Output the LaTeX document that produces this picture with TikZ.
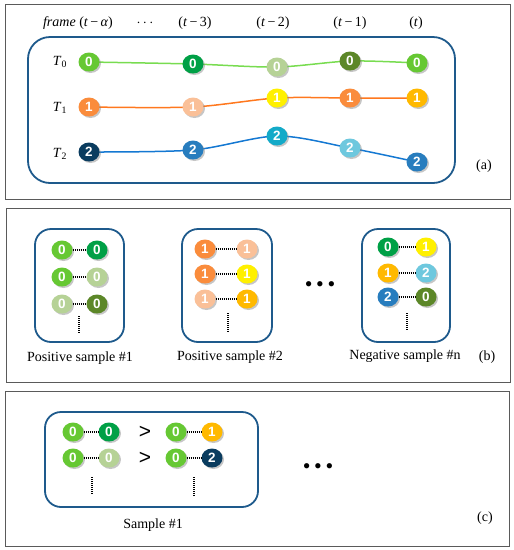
\documentclass[tikz,border=0pt]{standalone}
\usepackage{fontspec}
\setmainfont{Liberation Serif}
\setsansfont{Liberation Sans}
\usetikzlibrary{shapes.geometric,shadows,backgrounds}
\definecolor{cLG}{RGB}{102,200,51}
\definecolor{cDG}{RGB}{0,160,70}
\definecolor{cPG}{RGB}{182,210,150}
\definecolor{cOL}{RGB}{92,135,40}
\definecolor{cOR}{RGB}{250,140,60}
\definecolor{cPE}{RGB}{250,192,152}
\definecolor{cYE}{RGB}{255,240,0}
\definecolor{cAM}{RGB}{255,185,0}
\definecolor{cNV}{RGB}{10,60,95}
\definecolor{cBL}{RGB}{40,125,190}
\definecolor{cTE}{RGB}{20,170,200}
\definecolor{cLC}{RGB}{110,200,222}
\definecolor{boxblue}{RGB}{30,90,140}
\definecolor{framegray}{RGB}{90,90,90}
\definecolor{lineG}{RGB}{120,220,80}
\definecolor{lineO}{RGB}{255,120,30}
\definecolor{lineB}{RGB}{20,120,210}
\begin{document}
\begin{tikzpicture}[x=1pt,y=-1pt,
  circ/.style={ellipse, minimum width=21pt, minimum height=19pt, inner sep=0pt,
    fill=#1, text=white, font=\sffamily\bfseries\fontsize{13.5}{13.5}\selectfont,
    drop shadow={shadow xshift=1.5pt, shadow yshift=-1.5pt, opacity=0.45}},
  panel/.style={draw=framegray, line width=1pt},
  rbox/.style={draw=boxblue, line width=1.8pt, rounded corners=#1},
  lbl/.style={font=\fontsize{14}{16}\selectfont, inner sep=0pt},
  gtsym/.style={font=\sffamily\fontsize{21}{21}\selectfont, inner sep=0pt},
  track/.style={line width=1.5pt, draw=#1},
  dotline/.style={line width=1.3pt, dash pattern=on 1pt off 1pt},
  bullets/.style={font=\fontsize{22}{22}\selectfont, inner sep=0pt}
]
\useasboundingbox (0,0) rectangle (514,550);
% panels
\draw[panel] (5,4) rectangle (510,199);
\draw[panel] (6,208) rectangle (510,382);
\draw[panel] (5,391) rectangle (509,546);

% ===== panel (a)
\draw[rbox=22pt] (28,37) rectangle (455,183);
\node[lbl] (h0) at (78,23) {\textit{frame} (\textit{t}\,−\,\textit{α})};
\node[lbl] (h1) at (145,23) {$\cdots$};
\node[lbl] (h2) at (195,23) {(\textit{t}\,−\,3)};
\node[lbl] (h3) at (273,23) {(\textit{t}\,−\,2)};
\node[lbl] (h4) at (350,23) {(\textit{t}\,−\,1)};
\node[lbl] (h5) at (416,23) {(\textit{t})};
\node[lbl] (T0) at (60,62) {\textit{T}\textsubscript{0}};
\node[lbl] (T1) at (60,108) {\textit{T}\textsubscript{1}};
\node[lbl] (T2) at (60,154) {\textit{T}\textsubscript{2}};
\node[lbl] (la) at (484,166) {(a)};

\node[circ=cLG] (a00) at (89,62) {0};
\node[circ=cDG] (a01) at (193,64) {0};
\node[circ=cPG] (a02) at (277,67) {0};
\node[circ=cOL] (a03) at (350,61) {0};
\node[circ=cLG] (a04) at (417,63) {0};
\node[circ=cOR] (a10) at (89,107) {1};
\node[circ=cPE] (a11) at (193,107) {1};
\node[circ=cYE] (a12) at (277,98) {1};
\node[circ=cOR] (a13) at (350,98) {1};
\node[circ=cAM] (a14) at (417,98) {1};
\node[circ=cNV] (a20) at (89,152) {2};
\node[circ=cBL] (a21) at (193,150) {2};
\node[circ=cTE] (a22) at (277,136) {2};
\node[circ=cLC] (a23) at (350,148) {2};
\node[circ=cBL] (a24) at (417,162) {2};
\begin{pgfonlayer}{background}
\draw[track=lineG] plot[smooth, tension=0.5] coordinates {(a00) (a01) (a02) (a03) (a04)};
\draw[track=lineO] plot[smooth, tension=0.5] coordinates {(a10) (a11) (a12) (a13) (a14)};
\draw[track=lineB] plot[smooth, tension=0.5] coordinates {(a20) (a21) (a22) (a23) (a24)};
\end{pgfonlayer}

% ===== panel (b)
\draw[rbox=16pt] (35,229) rectangle (124,342);
\draw[rbox=16pt] (182,229) rectangle (272,342);
\draw[rbox=16pt] (362,229) rectangle (450,342);
% box 1
\node[circ=cLG] (p1l1) at (62,250) {0};
\node[circ=cDG] (p1r1) at (97,250) {0};
\node[circ=cLG] (p1l2) at (62,277) {0};
\node[circ=cPG] (p1r2) at (97,277) {0};
\node[circ=cPG] (p1l3) at (62,304) {0};
\node[circ=cOL] (p1r3) at (97,304) {0};
\draw[dotline] (p1l1) -- (p1r1);
\draw[dotline] (p1l2) -- (p1r2);
\draw[dotline] (p1l3) -- (p1r3);
\coordinate (v1a) at (79,316);
\coordinate (v1b) at (79,333);
\draw[dotline] (v1a) -- (v1b);
% box 2
\node[circ=cOR] (p2l1) at (205,249) {1};
\node[circ=cPE] (p2r1) at (247,249) {1};
\node[circ=cOR] (p2l2) at (205,274) {1};
\node[circ=cYE] (p2r2) at (247,274) {1};
\node[circ=cPE] (p2l3) at (205,299) {1};
\node[circ=cAM] (p2r3) at (247,299) {1};
\draw[dotline] (p2l1) -- (p2r1);
\draw[dotline] (p2l2) -- (p2r2);
\draw[dotline] (p2l3) -- (p2r3);
\coordinate (v2a) at (228,313);
\coordinate (v2b) at (228,332);
\draw[dotline] (v2a) -- (v2b);
% box 3
\node[circ=cDG] (p3l1) at (388,247) {0};
\node[circ=cYE] (p3r1) at (426,247) {1};
\node[circ=cAM] (p3l2) at (388,273) {1};
\node[circ=cLC] (p3r2) at (426,273) {2};
\node[circ=cBL] (p3l3) at (388,297) {2};
\node[circ=cOL] (p3r3) at (426,297) {0};
\draw[dotline] (p3l1) -- (p3r1);
\draw[dotline] (p3l2) -- (p3r2);
\draw[dotline] (p3l3) -- (p3r3);
\coordinate (v3a) at (407,313);
\coordinate (v3b) at (407,331);
\draw[dotline] (v3a) -- (v3b);
\node[bullets] (bdots) at (320,287) {•\,•\,•};
\node[lbl] (lp1) at (80,358) {Positive sample \#1};
\node[lbl] (lp2) at (230,357) {Positive sample \#2};
\node[lbl] (ln) at (405,356) {Negative sample \#n};
\node[lbl] (lb) at (487,357) {(b)};

% ===== panel (c)
\draw[rbox=16pt] (45,412) rectangle (258,507);
\node[circ=cLG] (c1a) at (73,432) {0};
\node[circ=cDG] (c1b) at (109,432) {0};
\node[gtsym] (gt1) at (145,432) {>};
\node[circ=cLG] (c1c) at (176,432) {0};
\node[circ=cAM] (c1d) at (212,432) {1};
\node[circ=cLG] (c2a) at (73,458) {0};
\node[circ=cPG] (c2b) at (109,458) {0};
\node[gtsym] (gt2) at (145,458) {>};
\node[circ=cLG] (c2c) at (176,458) {0};
\node[circ=cNV] (c2d) at (212,458) {2};
\draw[dotline] (c1a) -- (c1b);
\draw[dotline] (c1c) -- (c1d);
\draw[dotline] (c2a) -- (c2b);
\draw[dotline] (c2c) -- (c2d);
\coordinate (w1a) at (92,477);
\coordinate (w1b) at (92,495);
\draw[dotline] (w1a) -- (w1b);
\coordinate (w2a) at (194,477);
\coordinate (w2b) at (194,496);
\draw[dotline] (w2a) -- (w2b);
\node[bullets] (cdots) at (318,469) {•\,•\,•};
\node[lbl] (ls) at (153,525) {Sample \#1};
\node[lbl] (lc) at (485,518) {(c)};
\end{tikzpicture}
\end{document}
